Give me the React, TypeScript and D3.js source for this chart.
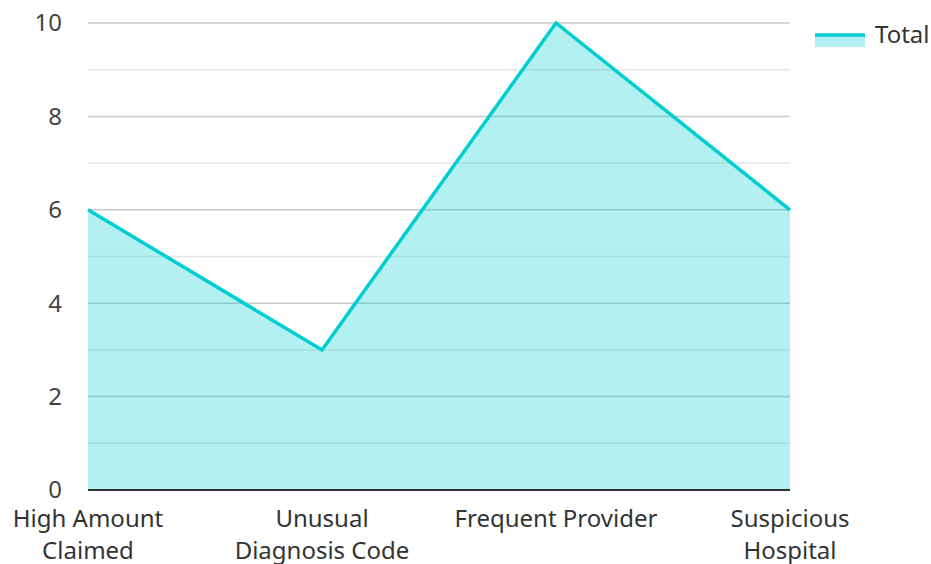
import React from "react";
import * as d3 from "d3";

const categories: string[][] = [
  ["High Amount", "Claimed"],
  ["Unusual", "Diagnosis Code"],
  ["Frequent Provider"],
  ["Suspicious", "Hospital"],
];
const totals: number[] = [6, 3, 10, 6];
const majorTicks: number[] = [0, 2, 4, 6, 8, 10];
const minorTicks: number[] = [1, 3, 5, 7, 9];
const seriesName = "Total";

const W = 931;
const H = 564;
const left = 88;
const right = 790;
const top = 23;
const bottom = 490;
const color = "#00CED1";
const font = "'Noto Sans', 'Open Sans', sans-serif";

export default function App() {
  const x = d3.scalePoint<number>().domain(d3.range(totals.length)).range([left, right]);
  const y = d3.scaleLinear().domain([0, 10]).range([bottom, top]);
  const line = d3.line<number>().x((_, i) => x(i)!).y((d) => y(d));
  const area = d3.area<number>().x((_, i) => x(i)!).y0(y(0)).y1((d) => y(d));

  return (
    <svg width={W} height={H} style={{ position: "absolute", left: 0, top: 0 }} fontFamily={font}>
      {minorTicks.map((t) => (
        <line key={"m" + t} x1={left} x2={right} y1={y(t)} y2={y(t)} stroke="#e6e6e6" strokeWidth={1.5} />
      ))}
      {majorTicks.map((t) => (
        <line key={"M" + t} x1={left} x2={right} y1={y(t)} y2={y(t)} stroke="#c8c8c8" strokeWidth={1.5} />
      ))}
      <path d={area(totals)!} fill={color} fillOpacity={0.3} />
      <path d={line(totals)!} fill="none" stroke={color} strokeWidth={3.5} strokeLinejoin="miter" />
      <line x1={left} x2={right} y1={y(0)} y2={y(0)} stroke="#333" strokeWidth={2} />
      {majorTicks.map((t) => (
        <text key={"t" + t} x={62} y={y(t)} dy="0.35em" textAnchor="end" fontSize={24} fill="#444">
          {t}
        </text>
      ))}
      {categories.map((lines, i) => (
        <text key={"c" + i} x={x(i)!} y={519} textAnchor="middle" fontSize={24} fill="#333">
          {lines.map((l, j) => (
            <tspan key={j} x={x(i)!} dy={j === 0 ? "0.35em" : 32}>
              {l}
            </tspan>
          ))}
        </text>
      ))}
      <rect x={815} y={35} width={50} height={12} fill={color} fillOpacity={0.3} />
      <line x1={815} x2={865} y1={35} y2={35} stroke={color} strokeWidth={3.5} />
      <text x={875} y={35} dy="0.35em" fontSize={24} fill="#333">
        {seriesName}
      </text>
    </svg>
  );
}
